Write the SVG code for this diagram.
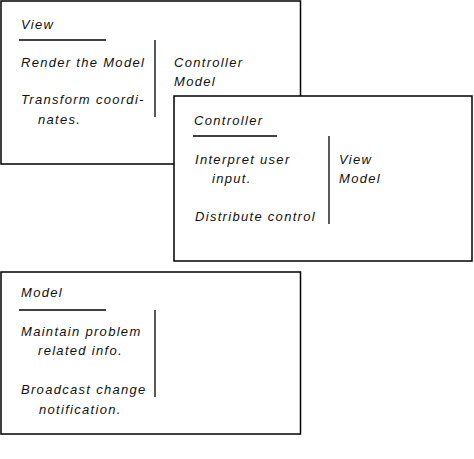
<svg xmlns="http://www.w3.org/2000/svg" width="474" height="459" viewBox="0 0 474 459">
<style>
.box{fill:#fff;stroke:#000;stroke-width:1.5}
.rule{stroke:#000;stroke-width:1.3;fill:none}
text{font-family:"Liberation Sans",Arial,sans-serif;font-style:italic;font-size:13px;letter-spacing:1.3px;fill:#111}
</style>
<rect width="474" height="459" fill="#fff"/>
<g id="view">
<rect class="box" x="1" y="1" width="299.5" height="163"/>
<text x="21" y="29">View</text>
<line class="rule" x1="19" y1="40" x2="106" y2="40"/>
<text x="21" y="67">Render the Model</text>
<text x="21" y="104">Transform coordi-</text>
<text x="38" y="124">nates.</text>
<line class="rule" x1="155" y1="40" x2="155" y2="117"/>
<text x="174" y="67">Controller</text>
<text x="174" y="86">Model</text>
</g>
<g id="controller">
<rect class="box" x="174" y="96" width="298" height="165"/>
<text x="194" y="125">Controller</text>
<line class="rule" x1="193" y1="136" x2="277" y2="136"/>
<text x="195" y="164">Interpret user</text>
<text x="212" y="183">input.</text>
<text x="195" y="221">Distribute control</text>
<line class="rule" x1="329" y1="136" x2="329" y2="224"/>
<text x="339" y="164">View</text>
<text x="339" y="183">Model</text>
</g>
<g id="model">
<rect class="box" x="1" y="272" width="299.5" height="162"/>
<text x="21" y="297">Model</text>
<line class="rule" x1="19" y1="310" x2="106" y2="310"/>
<text x="21" y="336">Maintain problem</text>
<text x="38" y="355">related info.</text>
<text x="21" y="394">Broadcast change</text>
<text x="39" y="414">notification.</text>
<line class="rule" x1="155" y1="310" x2="155" y2="397"/>
</g>
</svg>
